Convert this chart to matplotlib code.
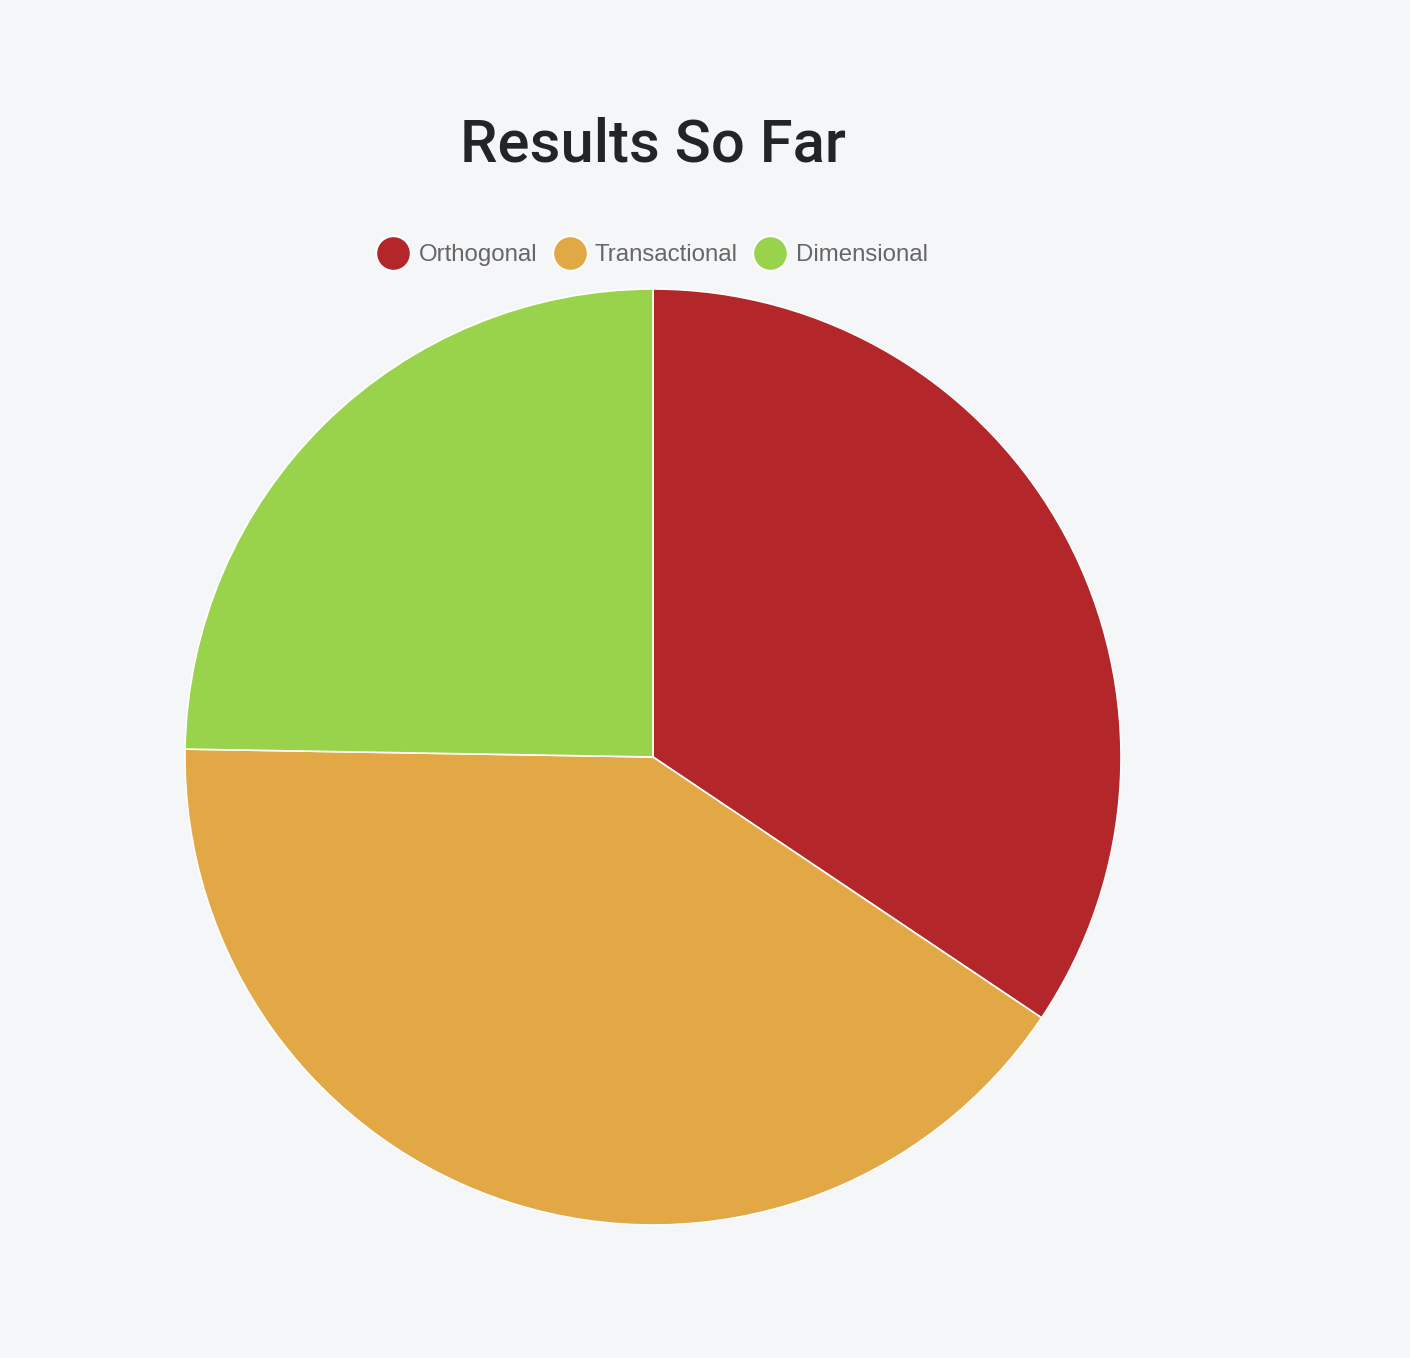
import matplotlib
matplotlib.use("Agg")
import matplotlib.pyplot as plt
from matplotlib.lines import Line2D

# data
labels = ["Orthogonal", "Transactional", "Dimensional"]
values = [32, 38, 23]
colors = ["#b3262a", "#e2a846", "#99d34c"]

W, H = 1410, 1358
BG = "#f5f6f8"

fig = plt.figure(figsize=(W / 100, H / 100), dpi=100, facecolor=BG)

# pie centre (653, 757) px, radius 468 px
cx, cy, r = 653, 757, 468
ax = fig.add_axes([(cx - r) / W, (H - cy - r) / H, 2 * r / W, 2 * r / H])
ax.set_facecolor(BG)
ax.pie(values, colors=colors, startangle=90, counterclock=False, radius=1,
       wedgeprops=dict(edgecolor="white", linewidth=1.2))
ax.set_xlim(-1, 1)
ax.set_ylim(-1, 1)
ax.set_aspect("auto")
ax.axis("off")

fig.text(653 / W, 1 - 145 / H, "Results So Far", ha="center", va="center",
         fontsize=43, fontfamily="Roboto", fontweight="medium", color="#212529")

handles = [Line2D([], [], linestyle="none", marker="o", markersize=25,
                  markerfacecolor=c, markeredgecolor="white", markeredgewidth=1.5)
           for c in colors]
fs = 17.3
leg = fig.legend(handles, labels, loc="center", bbox_to_anchor=(652 / W, 1 - 255 / H),
                 ncol=3, frameon=False, handlelength=1.4,
                 handletextpad=0.35, columnspacing=0.65, borderpad=0,
                 prop=dict(family="Liberation Sans", size=fs))
for t in leg.get_texts():
    t.set_color("#666666")

fig.savefig("out.png", dpi=100, facecolor=BG)
